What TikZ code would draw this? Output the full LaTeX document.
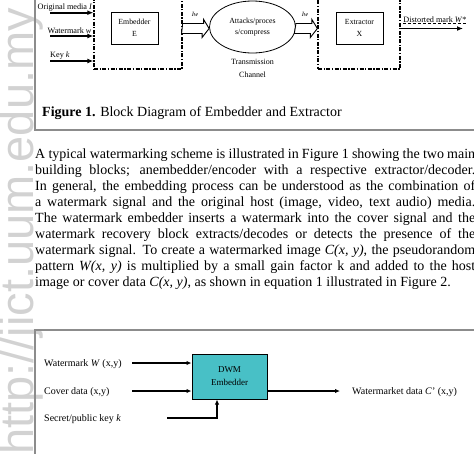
\documentclass[tikz,border=0pt]{standalone}
\usepackage{fontspec}
\setmainfont{Liberation Serif}
\setsansfont{Liberation Sans}
\usepackage{xcolor}
\usetikzlibrary{arrows.meta,shapes.geometric}

\definecolor{dwmcyan}{RGB}{72,192,198}
\definecolor{framegray}{RGB}{140,140,140}
\definecolor{wmgray}{RGB}{210,210,210}

\begin{document}
\begin{tikzpicture}[x=1pt, y=-1pt,
  smalltxt/.style={inner sep=0pt, font=\fontsize{8.2}{10}\selectfont},
  blockbox/.style={draw, line width=0.8pt, align=center, inner sep=1pt, minimum width=47, minimum height=32, font=\fontsize{7.8}{11.5}\selectfont},
  dashframe/.style={draw, line width=1.3pt, dash pattern=on 4pt off 1.5pt on 1.3pt off 1.5pt},
  inarrow/.style={line width=1.6pt, -{Latex[length=6pt, width=5pt]}},
  hollow/.style={draw, line width=0.9pt, fill=white, line join=miter},
  smallarrow/.style={line width=1.2pt, -{Latex[length=5pt, width=4.5pt]}},
  lbltwo/.style={inner sep=0pt, anchor=base west, font=\fontsize{10}{12}\selectfont}]
\useasboundingbox (0,0) rectangle (474,453);
\clip (0,0) rectangle (474,453);

% site mark
\node[wmgray, rotate=90, anchor=base west, inner sep=0pt, font=\sffamily\fontsize{47}{47}\selectfont] (sitemark) at (34,455) {http://jict.uum.edu.my};

% figure 1
\node[dashframe, minimum width=88, minimum height=81] (embframe) at (138,28.5) {};
\node[dashframe, minimum width=82, minimum height=81] (extframe) at (359,28.5) {};
\node[blockbox] (emb) at (134.5,28) {Embedder\\E};
\node[blockbox] (ext) at (359.5,28) {Extractor\\X};
\node[draw, ellipse, line width=0.8pt, minimum width=86, minimum height=52, inner sep=0pt, align=center, font=\fontsize{7.8}{11}\selectfont] (chan) at (252.5,27) {Attacks/proces\\s/compress};
\node[align=center, inner sep=0pt, font=\fontsize{8}{12.5}\selectfont] (chanlbl) at (252.5,68.5) {Transmission\\Channel};

\coordinate (origin) at (50,12.7);
\coordinate (markin) at (50,36);
\coordinate (keyone) at (50,61);
\node[smalltxt, anchor=base west] (origlbl) at (37.5,9) {Original media \textit{I}};
\node[smalltxt, anchor=base west] (marklbl) at (47.5,33.5) {Watermark \textit{w}};
\node[smalltxt, anchor=base west] (keylbl) at (50,57.5) {Key \textit{k}};
\draw[inarrow] (origin) -- (origin -| embframe.west);
\draw[inarrow] (markin) -- (markin -| embframe.west);
\draw[inarrow] (keyone) -- (keyone -| embframe.west);

% hollow arrows
\draw[hollow] (embframe.east) ++(0,-5) -- ++(21,0) -- ++(0,-4) -- (chan.west |- embframe.east) -- ++(-7,9) -- ++(0,-4) -- ++(-20.5,0) -- cycle;
\draw[hollow] (chan.east |- extframe.west) ++(0,-5) -- ++(16,0) -- ++(0,-4) -- (extframe.west) -- ++(-7,9) -- ++(0,-4) -- ++(-16,0) -- cycle;
\node[smalltxt, font=\fontsize{6.5}{8}\selectfont] (iwone) at (195,14) {\textit{Iw}};
\node[smalltxt, font=\fontsize{6.5}{8}\selectfont] (iwtwo) at (305,14) {\textit{Iw}};

\coordinate (distend) at (463,28.5);
\draw[inarrow] (extframe.east) -- (distend);
\node[smalltxt, anchor=base] (distlbl) at (435,22) {Distorted mark \textit{W}*};
\draw[densely dashed, line width=0.5pt] ([yshift=-1.5pt]distlbl.base west) -- ([yshift=-1.5pt]distlbl.base east);

% caption and frames
\node[inner sep=0pt, anchor=base west, font=\fontsize{14}{16}\selectfont] (capone) at (42,116.5) {\textbf{Figure 1.} Block Diagram of Embedder and Extractor};
\draw[framegray, line width=1.2pt] (35,-2) -- (35,130) -- (476,130);
\draw[framegray, line width=1.2pt] (476,330) -- (35,330) -- (35,456);

% text
\node[anchor=north west, inner sep=0pt, align=left, font=\fontsize{14}{16}\selectfont] (body) at (35,148.5) {%
\makebox[440pt][s]{A typical watermarking scheme is illustrated in Figure 1 showing the two main}\\
\makebox[440pt][s]{building blocks; anembedder/encoder with a respective extractor/decoder.}\\
\makebox[440pt][s]{In general, the embedding process can be understood as the combination of}\\
\makebox[440pt][s]{a watermark signal and the original host (image, video, text audio) media.}\\
\makebox[440pt][s]{The watermark embedder inserts a watermark into the cover signal and the}\\
\makebox[440pt][s]{watermark recovery block extracts/decodes or detects the presence of the}\\
\makebox[440pt][s]{watermark signal. To create a watermarked image \textit{C(x, y)}, the pseudorandom}\\
\makebox[440pt][s]{pattern \textit{W(x, y)} is multiplied by a small gain factor k and added to the host}\\
image or cover data \textit{C(x, y)}, as shown in equation 1 illustrated in Figure 2.};

% figure 2
\node[draw, fill=dwmcyan, line width=1pt, minimum width=75, minimum height=45, align=center, inner sep=0pt, font=\fontsize{9}{13}\selectfont] (dwm) at (229.5,376.5) {DWM\\Embedder};
\coordinate (wmin) at (132,363);
\coordinate (covin) at (132,391);
\coordinate (keyin) at (167,418);
\coordinate (wmout) at (340,391);
\node[lbltwo] (wmlbl) at (44,366.5) {Watermark \textit{W} (x,y)};
\node[lbltwo] (covlbl) at (44,394.5) {Cover data (x,y)};
\node[lbltwo] (keylbltwo) at (44,421.5) {Secret/public key \textit{k}};
\node[lbltwo] (outlbl) at (352,394.5) {Watermarket data \textit{C}' (x,y)};
\draw[smallarrow] (wmin) -- (wmin -| dwm.west);
\draw[smallarrow] (covin) -- (covin -| dwm.west);
\draw[smallarrow] (keyin) -| ([xshift=-12.5pt]dwm.south);
\draw[smallarrow] (dwm.east |- covin) -- (wmout);
\end{tikzpicture}
\end{document}
